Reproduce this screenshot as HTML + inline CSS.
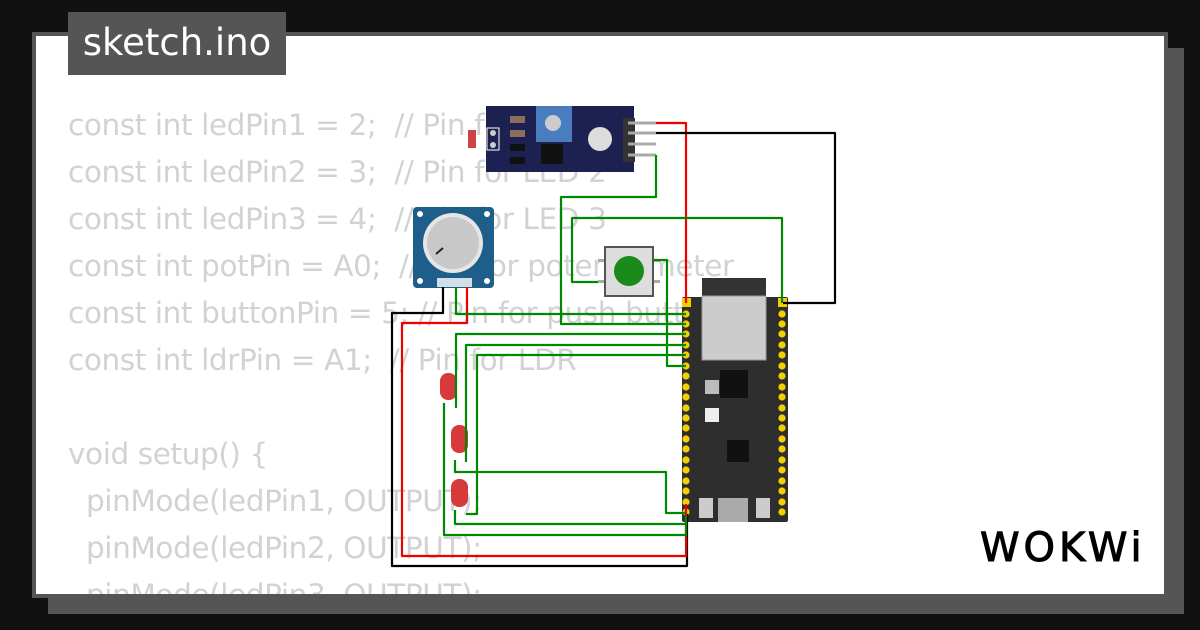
<!DOCTYPE html>
<html><head><style>
html,body{margin:0;padding:0;background:#111;}
#c{position:relative;width:1200px;height:630px;overflow:hidden;background:#111;font-family:"Liberation Sans",sans-serif;}
.sh{position:absolute;left:48px;top:48px;width:1136px;height:566px;background:#555;}
.wb{position:absolute;left:32px;top:32px;width:1128px;height:558px;background:#fff;border:4px solid #555;overflow:hidden;}
.code{position:absolute;left:32px;top:19px;font-size:29.5px;color:#d2d2d2;line-height:47px;white-space:pre;font-family:"DejaVu Sans","Liberation Sans",sans-serif;letter-spacing:-0.4px}
.tag{position:absolute;left:68px;top:12px;width:218px;height:63px;background:#555;color:#fff;font-size:37px;line-height:62px;text-align:center;font-family:"DejaVu Sans",sans-serif;}
.logo{position:absolute;left:980px;top:525px;font-size:40px;color:#000;font-family:"DejaVu Sans",sans-serif;letter-spacing:4px;-webkit-text-stroke:1px #000}
svg{position:absolute;left:0;top:0}
</style></head><body><div id="c">
<div class="sh"></div>
<div class="wb"><div class="code">
const int ledPin1 = 2;  // Pin for LED 1
const int ledPin2 = 3;  // Pin for LED 2
const int ledPin3 = 4;  // Pin for LED 3
const int potPin = A0;  // Pin for potentiometer
const int buttonPin = 5; // Pin for push button
const int ldrPin = A1;  // Pin for LDR

void setup() {
  pinMode(ledPin1, OUTPUT);
  pinMode(ledPin2, OUTPUT);
  pinMode(ledPin3, OUTPUT);</div></div>
<div class="tag">sketch.ino</div>
<div class="logo">WOKWi</div>
<svg width="1200" height="630" viewBox="0 0 1200 630">
<rect x="486" y="106" width="148" height="66" fill="#1c2152"/>
<rect x="536" y="106" width="36" height="36" fill="#4a7cc0"/>
<circle cx="553" cy="123" r="8" fill="#ccc"/>
<circle cx="600" cy="139" r="12" fill="#ddd"/>
<rect x="541" y="144" width="22" height="20" fill="#111"/>
<rect x="510" y="116" width="15" height="7" fill="#8b6f5c"/><rect x="510" y="130" width="15" height="7" fill="#8b6f5c"/>
<rect x="510" y="144" width="15" height="7" fill="#111"/><rect x="510" y="157" width="15" height="7" fill="#111"/>
<rect x="487" y="128" width="12" height="22" fill="none" stroke="#fff" stroke-width="1"/>
<circle cx="493" cy="133" r="3" fill="#ccc"/><circle cx="493" cy="145" r="3" fill="#ccc"/>
<rect x="468" y="130" width="8" height="18" fill="#c44"/>
<rect x="623" y="118" width="12" height="44" fill="#333"/>
<g stroke="#aaa" stroke-width="3"><line x1="628" y1="123" x2="656" y2="123"/><line x1="628" y1="133" x2="656" y2="133"/><line x1="628" y1="144" x2="656" y2="144"/><line x1="628" y1="155" x2="656" y2="155"/></g>
<rect x="413" y="207" width="81" height="81" rx="4" fill="#1d5e8a"/>
<circle cx="453" cy="243" r="30" fill="#e5e5e5"/><circle cx="453" cy="243" r="26" fill="#c8c8c8"/>
<line x1="436" y1="254" x2="443" y2="248" stroke="#222" stroke-width="2"/>
<circle cx="420" cy="214" r="3" fill="#fff"/><circle cx="487" cy="214" r="3" fill="#fff"/><circle cx="420" cy="281" r="3" fill="#fff"/><circle cx="487" cy="281" r="3" fill="#fff"/>
<rect x="437" y="278" width="35" height="9" fill="#fff" opacity=".8"/>
<rect x="598" y="259" width="8" height="3" fill="#aaa"/><rect x="598" y="280" width="8" height="3" fill="#aaa"/>
<rect x="652" y="259" width="8" height="3" fill="#aaa"/><rect x="652" y="280" width="8" height="3" fill="#aaa"/>
<rect x="605" y="247" width="48" height="49" fill="#ddd" stroke="#555" stroke-width="2"/>
<circle cx="629" cy="271" r="15" fill="#1a8a1a"/>
<rect x="702" y="278" width="64" height="20" fill="#333"/>
<rect x="682" y="297" width="106" height="225" rx="2" fill="#2e2e2e"/>
<rect x="702" y="296" width="64" height="64" fill="#ccc" stroke="#999"/>
<rect x="720" y="370" width="28" height="28" fill="#111"/><rect x="705" y="380" width="14" height="14" fill="#bbb"/>
<rect x="705" y="408" width="14" height="14" fill="#eee"/>
<rect x="727" y="440" width="22" height="22" fill="#111"/>
<rect x="718" y="498" width="30" height="24" fill="#aaa"/>
<rect x="699" y="498" width="14" height="20" fill="#ccc"/><rect x="756" y="498" width="14" height="20" fill="#ccc"/>
<g fill="#f5d000">
<rect x="682" y="298" width="9" height="9"/><rect x="778" y="298" width="9" height="9"/>
<circle cx="686" cy="314" r="3.6"/><circle cx="686" cy="324" r="3.6"/><circle cx="686" cy="334" r="3.6"/><circle cx="686" cy="345" r="3.6"/><circle cx="686" cy="355" r="3.6"/><circle cx="686" cy="366" r="3.6"/><circle cx="686" cy="376" r="3.6"/><circle cx="686" cy="387" r="3.6"/><circle cx="686" cy="397" r="3.6"/><circle cx="686" cy="408" r="3.6"/><circle cx="686" cy="418" r="3.6"/><circle cx="686" cy="428" r="3.6"/><circle cx="686" cy="439" r="3.6"/><circle cx="686" cy="449" r="3.6"/><circle cx="686" cy="460" r="3.6"/><circle cx="686" cy="470" r="3.6"/><circle cx="686" cy="481" r="3.6"/><circle cx="686" cy="491" r="3.6"/><circle cx="686" cy="502" r="3.6"/><circle cx="686" cy="512" r="3.6"/>
<circle cx="782" cy="314" r="3.6"/><circle cx="782" cy="324" r="3.6"/><circle cx="782" cy="334" r="3.6"/><circle cx="782" cy="345" r="3.6"/><circle cx="782" cy="355" r="3.6"/><circle cx="782" cy="366" r="3.6"/><circle cx="782" cy="376" r="3.6"/><circle cx="782" cy="387" r="3.6"/><circle cx="782" cy="397" r="3.6"/><circle cx="782" cy="408" r="3.6"/><circle cx="782" cy="418" r="3.6"/><circle cx="782" cy="428" r="3.6"/><circle cx="782" cy="439" r="3.6"/><circle cx="782" cy="449" r="3.6"/><circle cx="782" cy="460" r="3.6"/><circle cx="782" cy="470" r="3.6"/><circle cx="782" cy="481" r="3.6"/><circle cx="782" cy="491" r="3.6"/><circle cx="782" cy="502" r="3.6"/><circle cx="782" cy="512" r="3.6"/>
</g>
<g fill="#d63a3a"><rect x="440" y="373" width="17" height="27" rx="8"/><rect x="451" y="425" width="17" height="28" rx="8"/><rect x="451" y="479" width="17" height="28" rx="8"/></g>
<g fill="none" stroke-width="2.2" stroke-linejoin="round">
<polyline stroke="#e00" points="656,123 686,123 686,303"/>
<polyline stroke="#000" points="656,133 835,133 835,303 783,303"/>
<polyline stroke="#080" points="656,155 656,197 561,197 561,324 686,324"/>
<polyline stroke="#080" points="598,282 572,282 572,218 782,218 782,303"/>
<polyline stroke="#080" points="653,260 667,260 667,366 686,366"/>
<polyline stroke="#000" points="443,287 443,313 392,313 392,566 687,566 687,514"/>
<polyline stroke="#e00" points="467,287 467,323 402,323 402,556 686,556 686,504"/>
<polyline stroke="#080" points="456,287 456,314 686,314"/>
<polyline stroke="#080" points="686,334 456,334 456,408"/>
<polyline stroke="#080" points="686,345 466,345 466,462"/>
<polyline stroke="#080" points="686,355 477,355 477,514 466,514"/>
<polyline stroke="#080" points="444,403 444,535 686,535 686,516"/>
<polyline stroke="#080" points="455,460 455,472 666,472 666,513 686,513"/>
<polyline stroke="#080" points="455,510 455,524 686,524"/>
</g>
</svg>
</div></body></html>
